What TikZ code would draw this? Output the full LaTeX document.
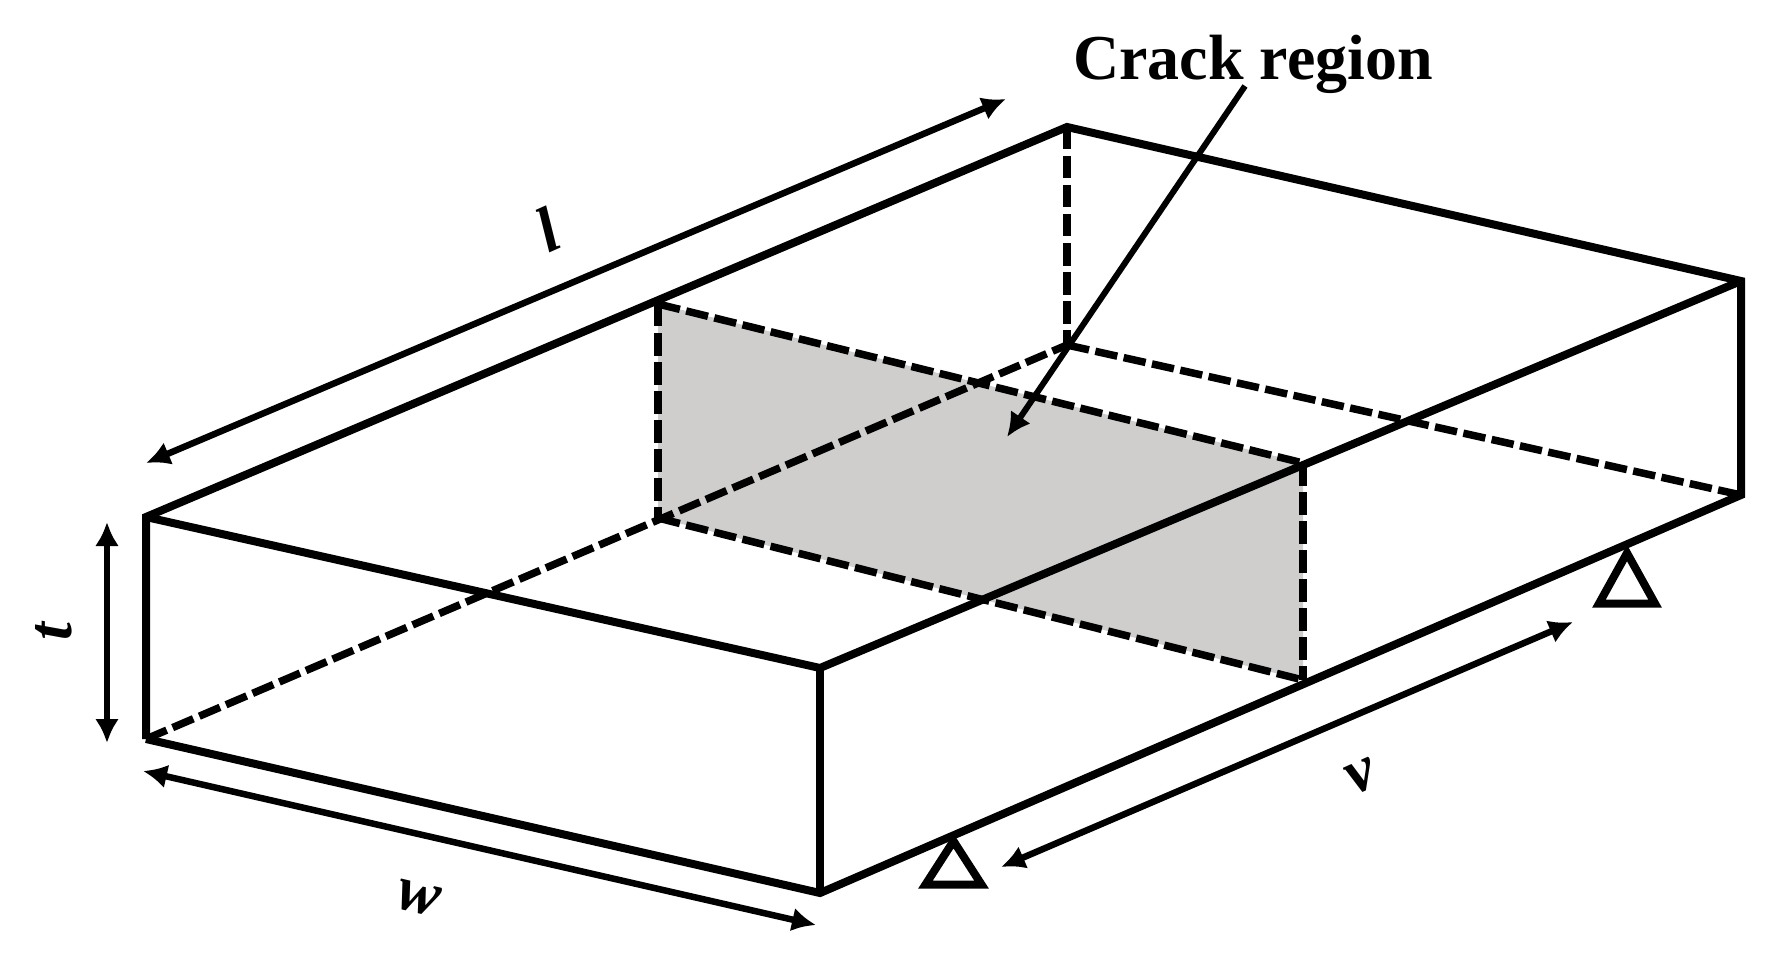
\documentclass[tikz,border=0pt]{standalone}
\usepackage{fontspec}
\setmainfont{Liberation Serif}
\usetikzlibrary{arrows.meta}
\definecolor{crackgray}{RGB}{207,206,204}

\begin{document}
\begin{tikzpicture}[>={Latex[length=.24cm,width=.24cm]},
    beam/.style={line width=.08cm, line join=miter},
    hidden/.style={line width=.075cm, dash pattern=on .225cm off .065cm},
    dimline/.style={<->, line width=.065cm},
    dimlabel/.style={font=\fontsize{18.2}{20}\selectfont\bfseries\itshape, inner sep=0pt}]
  \useasboundingbox (0,0) rectangle (17.73,9.55);
  % corners of the block
  \coordinate (A) at (1.46,4.38);
  \coordinate (B) at (1.46,2.16);
  \coordinate (C) at (8.20,2.87);
  \coordinate (D) at (8.20,0.62);
  \coordinate (E) at (10.67,8.28);
  \coordinate (F) at (10.67,6.10);
  \coordinate (G) at (17.41,6.74);
  \coordinate (H) at (17.41,4.60);
  % crack plane
  \coordinate (P) at (6.58,6.51);
  \coordinate (Q) at (6.58,4.37);
  \coordinate (R) at (13.03,4.92);
  \coordinate (S) at (13.03,2.75);
  \fill[crackgray] (P) -- (R) -- (S) -- (Q) -- cycle;
  \draw[hidden] (P) -- (R);
  \draw[hidden] (Q) -- (S);
  \draw[hidden] (P) -- (Q);
  \draw[hidden] (R) -- (S);
  \draw[hidden] (E) -- (F);
  \draw[hidden] (B) -- (F);
  \draw[hidden] (F) -- (H);
  \draw[beam] (B) -- (A) -- (E) -- (G) -- (H) -- (D) -- (B);
  \draw[beam] (A) -- (C) -- (G);
  \draw[beam] (C) -- (D);
  % supports
  \foreach \x/\t/\b in {9.535/1.14/0.705, 16.27/4.02/3.515} {
    \draw[beam] (\x,\t) -- (\x+.28,\b) -- (\x-.28,\b) -- cycle;
  }
  % dimensions
  \coordinate (l1) at (1.46,4.92);
  \coordinate (l2) at (10.06,8.56);
  \coordinate (t1) at (1.07,4.33);
  \coordinate (t2) at (1.07,2.12);
  \coordinate (w1) at (1.43,1.84);
  \coordinate (w2) at (8.16,0.30);
  \coordinate (v1) at (10.01,0.88);
  \coordinate (v2) at (15.73,3.33);
  \draw[dimline] (l1) -- (l2);
  \draw[dimline] (t1) -- (t2);
  \draw[dimline] (w1) -- (w2);
  \draw[dimline] (v1) -- (v2);
  \node[dimlabel, rotate=24] (llabel) at (5.48,7.25) {l};
  \node[dimlabel, rotate=90] (tlabel) at (0.54,3.23) {t};
  \node[dimlabel, rotate=-13] (wlabel) at (4.19,0.57) {w};
  \node[dimlabel, rotate=24] (vlabel) at (13.62,1.78) {v};
  % crack label and its arrow
  \node[font=\fontsize{18.2}{20}\selectfont\bfseries, inner sep=0pt, anchor=base] (crack) at (12.53,8.75) {Crack region};
  \coordinate (c1) at (12.45,8.69);
  \coordinate (c2) at (10.07,5.18);
  \draw[->, line width=.06cm] (c1) -- (c2);
\end{tikzpicture}
\end{document}
